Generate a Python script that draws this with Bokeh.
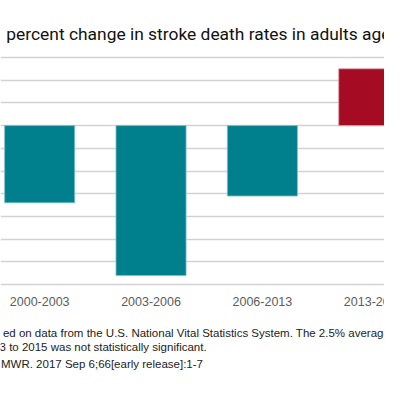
from bokeh.plotting import figure
from bokeh.models import Range1d, FixedTicker, Grid, Label
from bokeh.core.properties import value
from bokeh.embed import file_html
from bokeh.resources import INLINE

# ---- data ----
categories = ["2000-2003", "2003-2006", "2006-2013", "2013-2015"]
values = [-3.4, -6.6, -3.1, 2.5]
y_ticks = [-7, -6, -5, -4, -3, -2, -1, 0, 1, 2, 3]
title_text = "percent change in stroke death rates in adults age"
note_lines = [
    "ed on data from the U.S. National Vital Statistics System. The 2.5% average",
    "3 to 2015 was not statistically significant.",
    "MWR. 2017 Sep 6;66[early release]:1-7",
]

TEAL = "#00808c"
RED = "#a50b22"

# reference-pixel helpers (reference 400px -> figure 384px)
X0 = -40.8 / 116.0
def X(px):
    return X0 + px / 116.0
def Y(py):
    return 3 - (py - 59.3) / 23.67

p = figure(width=384, height=384, output_backend="svg", toolbar_location=None,
           x_range=Range1d(X0, X(400)), y_range=Range1d(Y(400), Y(0)),
           x_axis_location=None, y_axis_location=None,
           min_border_left=0, min_border_right=0,
           min_border_top=0, min_border_bottom=0)
p.outline_line_color = None
p.grid.visible = False
p.background_fill_color = "white"

grid = Grid(dimension=1, ticker=FixedTicker(ticks=y_ticks),
            grid_line_color="#d2d2d2", grid_line_width=1.5)
p.add_layout(grid)

xs = list(range(len(categories)))
colors = [TEAL if v < 0 else RED for v in values]
outlines = ["#7fc0c5" if v < 0 else "#d9a0aa" for v in values]
p.vbar(x=xs, top=values, bottom=0, width=73 / 116.0, fill_color=colors,
       line_color=outlines, line_width=0.8)

# category labels under the bottom (-7) line
label_y = min(y_ticks) - (314 - 296) / 23.67
p.text(x=xs, y=[label_y] * len(xs), text=categories,
       text_font=value("Liberation Sans"), text_font_size="12.5px",
       text_color="#5c5c5c", text_align="center", text_baseline="alphabetic")

p.add_layout(Label(x=X(6), y=Y(34.5), text=title_text,
                   text_font="Roboto", text_font_size="17.4px",
                   text_color="#111111", text_baseline="alphabetic"))

note_x = [2.5, -1.0, 0.5]
note_y = [346.5, 360.5, 379.0]
for t, nx, ny in zip(note_lines, note_x, note_y):
    p.add_layout(Label(x=X(nx), y=Y(ny), text=t,
                       text_font="Liberation Sans", text_font_size="11.5px",
                       text_color="#222222", text_baseline="alphabetic"))

open("out.html", "w").write(file_html(p, INLINE))
